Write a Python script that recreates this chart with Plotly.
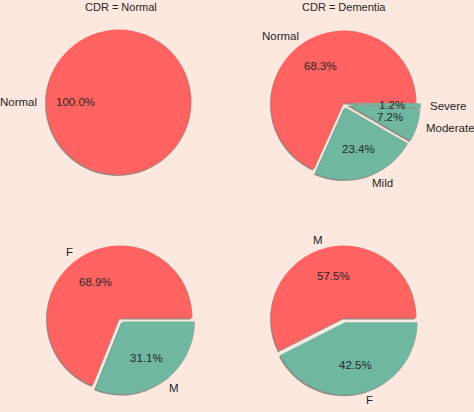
import math
import plotly.graph_objects as go

W, H = 474, 412

# ---- data ----
cdr_titles = ["CDR = Normal", "CDR = Dementia"]
normal_cdr_labels = ["Normal"]
normal_cdr_counts = [206]
dementia_cdr_labels = ["Normal", "Mild", "Moderate", "Severe"]
dementia_cdr_counts = [114, 39, 12, 2]
normal_gender_labels = ["F", "M"]
normal_gender_counts = [142, 64]
dementia_gender_labels = ["M", "F"]
dementia_gender_counts = [96, 71]

# ---- style ----
BG = "#fce8df"
RED = (255, 99, 97)
GREEN = (111, 183, 160)
TEXT = "#262626"
FONT = "Liberation Sans"
EXPL = 0.06
R = 72.5
SH = 1.45  # shadow offset in px

panels = [
    (normal_cdr_labels, normal_cdr_counts, (119, 102)),
    (dementia_cdr_labels, dementia_cdr_counts, (344, 103)),
    (normal_gender_labels, normal_gender_counts, (120, 318)),
    (dementia_gender_labels, dementia_gender_counts, (344, 318)),
]

def rgb(c, a=1.0):
    return f"rgba({c[0]},{c[1]},{c[2]},{a})"

fig = go.Figure()
annotations = []

for labels, vals, (cx, cy) in panels:
    n = len(vals)
    cols = [RED] + [GREEN] * (n - 1)
    expl = [0.0] + [EXPL] * (n - 1)
    mp = max(expl)
    Rb = R * (1 + mp)

    def dom(ox, oy):
        return dict(x=[(cx + ox - Rb) / W, (cx + ox + Rb) / W],
                    y=[1 - (cy + oy + Rb) / H, 1 - (cy + oy - Rb) / H])

    # slices go counter-clockwise from 3 o'clock: draw reversed list clockwise from 3 o'clock
    common = dict(values=vals[::-1], labels=labels[::-1], sort=False, direction="clockwise",
                  rotation=90, textinfo="none", hoverinfo="skip", showlegend=False,
                  pull=expl[::-1])
    # shadow
    fig.add_trace(go.Pie(domain=dom(-SH, SH),
                         marker=dict(colors=[rgb(tuple(int(v * 0.3) for v in c), 0.5) for c in cols[::-1]],
                                     line=dict(width=0)), **common))
    fig.add_trace(go.Pie(domain=dom(0, 0),
                         marker=dict(colors=[rgb(c) for c in cols[::-1]], line=dict(width=0)), **common))

    tot = sum(vals)
    start = 0.0
    for lab, v, e in zip(labels, vals, expl):
        frac = v / tot
        th = math.radians((start + frac / 2) * 360)
        start += frac
        c, s = math.cos(th), math.sin(th)
        px, py = cx + (0.6 + e) * R * c, cy - (0.6 + e) * R * s
        annotations.append(dict(x=px / W, y=1 - py / H, xref="paper", yref="paper",
                                text=f"{100 * frac:.1f}%", showarrow=False,
                                xanchor="center", yanchor="middle",
                                font=dict(family=FONT, size=11.5, color=TEXT)))
        lx, ly = cx + (1.1 + e) * R * c, cy - (1.1 + e) * R * s
        annotations.append(dict(x=lx / W, y=1 - ly / H, xref="paper", yref="paper",
                                text=lab, showarrow=False,
                                xanchor="left" if lx - cx > 0 else "right", yanchor="middle",
                                font=dict(family=FONT, size=11.5, color=TEXT)))

for t, tx in zip(cdr_titles, [121.5, 344]):
    annotations.append(dict(x=tx / W, y=1 - 7 / H, xref="paper", yref="paper", text=t,
                            showarrow=False, xanchor="center", yanchor="middle",
                            font=dict(family=FONT, size=11, color=TEXT)))

fig.update_layout(width=W, height=H, margin=dict(l=0, r=0, t=0, b=0),
                  paper_bgcolor=BG, plot_bgcolor=BG, annotations=annotations)

fig.write_html("out.html")
